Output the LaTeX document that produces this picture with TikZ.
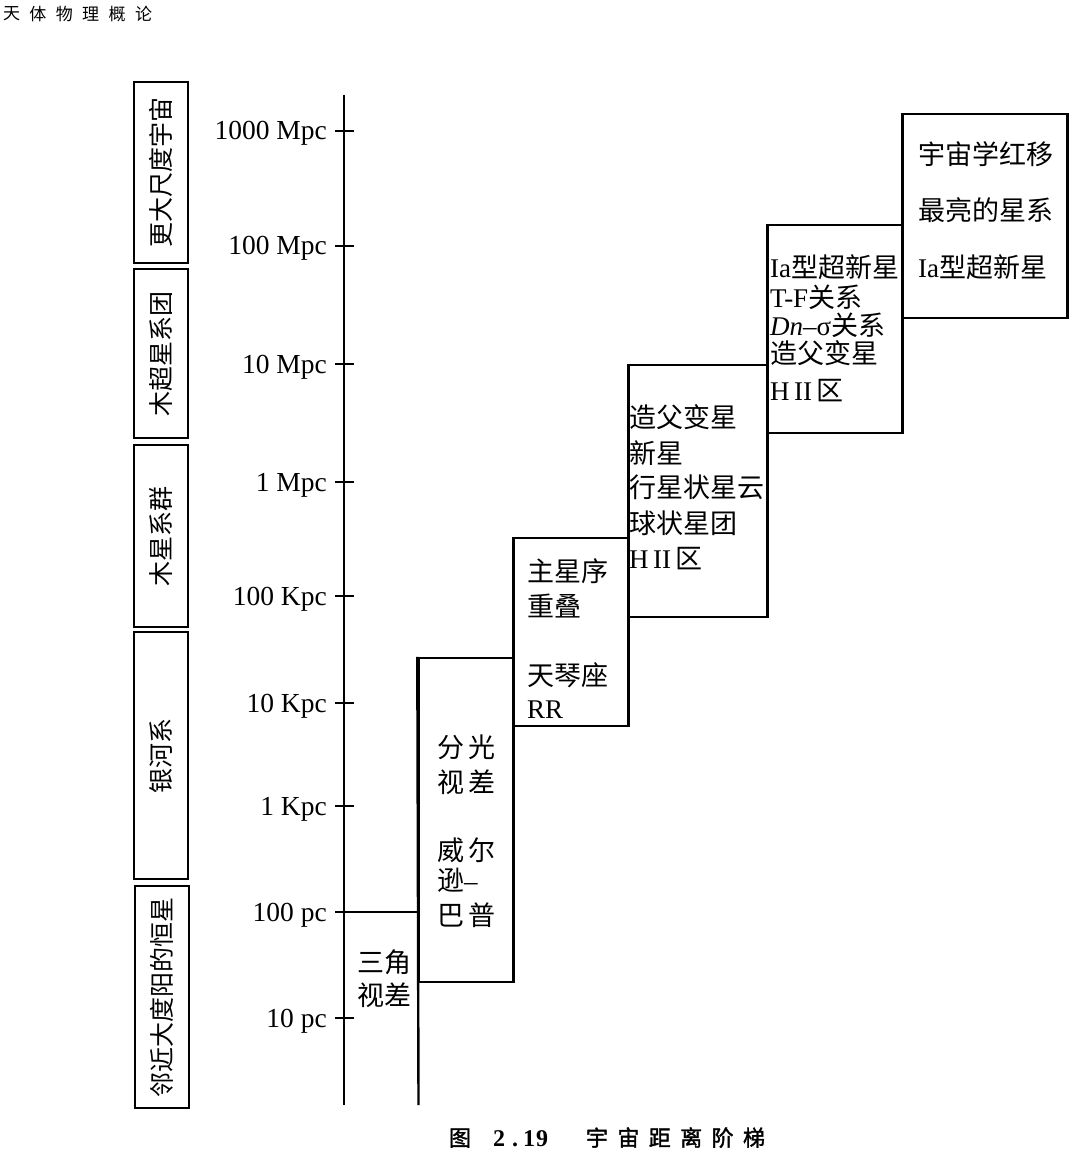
\documentclass[tikz,border=0pt]{standalone}
\usepackage{fontspec}
\setmainfont{Liberation Serif}
\newfontfamily\cjk{Noto Sans CJK SC}
\newfontfamily\cjkb[FakeBold=1.6]{Noto Sans CJK SC}
\begin{document}
\begin{tikzpicture}[x=1pt,y=-1pt,
  ln/.style={line width=2.4pt},
  catbox/.style={draw, line width=2.4pt, rotate=90, minimum height=54pt, inner sep=0pt,
                 font=\cjk\fontsize{25}{25}\selectfont},
  stepbox/.style={draw, line width=2.4pt, inner sep=0pt},
  lbl/.style={anchor=base west, inner sep=0pt, font=\fontsize{27}{30}\selectfont},
  ticklbl/.style={anchor=base east, inner sep=0pt, font=\fontsize{27.5}{30}\selectfont},
  headch/.style={inner sep=0pt, font=\cjk\fontsize{17}{17}\selectfont},
  capch/.style={anchor=base, inner sep=0pt, font=\cjkb\fontsize{22}{22}\selectfont},
  capnum/.style={anchor=base, inner sep=0pt, font=\bfseries\fontsize{24}{24}\selectfont}
]
\fill[white] (0,0) rectangle (1074,1155);
\useasboundingbox (0,0) rectangle (1074,1155);

% header
\foreach \c [count=\i from 0] in {天,体,物,理,概,论}
  \node[headch] (h\i) at (11.5+26.4*\i,14) {\c};

% category boxes
\node[catbox, minimum width=181pt] (c1) at (161,172.5) {更大尺度宇宙};
\node[catbox, minimum width=169pt] (c2) at (161,353.5) {木超星系团};
\node[catbox, minimum width=182pt] (c3) at (161,536)   {木星系群};
\node[catbox, minimum width=247pt] (c4) at (161,755.5) {银河系};
\node[catbox, minimum width=222pt] (c5) at (162,997)   {邻近大度阳的恒星};

% axis
\coordinate (axtop) at (344,95);
\coordinate (axbot) at (344,1105);
\draw[ln] (axtop) -- (axbot);
\foreach \y/\t [count=\i] in {131/1000 Mpc,246/100 Mpc,364/10 Mpc,482/1 Mpc,596/100 Kpc,703/10 Kpc,806/1 Kpc,912/100 pc,1018/10 pc}{
  \coordinate (tk\i) at (344,\y);
  \draw[ln] ([xshift=-9pt]tk\i) -- ([xshift=10pt]tk\i);
  \node[ticklbl] (tl\i) at (327,\y+9) {\t};
}

% step boxes
\node[stepbox, minimum width=95pt,  minimum height=324pt] (B) at (466,820) {};
\node[stepbox, minimum width=115pt, minimum height=188pt] (C) at (571,632) {};
\node[stepbox, minimum width=139pt, minimum height=252pt] (D) at (698,491) {};
\node[stepbox, minimum width=135pt, minimum height=208pt] (E) at (835,329) {};
\node[stepbox, minimum width=165pt, minimum height=204pt] (F) at (985,216) {};
\coordinate (bbot) at (418.5,1105);
\draw[ln] (B.north west) -- (bbot);
\draw[ln] (tk8) -- (tk8 -| B.west);

% box A text
\node[lbl] (a1) at (357,972) {\cjk 三角};
\node[lbl] (a2) at (357,1005) {\cjk 视差};

% box B text
\node[lbl] (b1) at (437,757) {\cjk 分\hspace{4pt}光};
\node[lbl] (b2) at (437,792) {\cjk 视\hspace{4pt}差};
\node[lbl] (b3) at (437,860) {\cjk 威\hspace{4pt}尔};
\node[lbl] (b4) at (437,890) {{\cjk 逊}–};
\node[lbl] (b5) at (437,925) {\cjk 巴\hspace{4pt}普};

% box C text
\node[lbl] (c1t) at (527,581) {\cjk 主星序};
\node[lbl] (c2t) at (527,616) {\cjk 重叠};
\node[lbl] (c3t) at (527,685) {\cjk 天琴座};
\node[lbl] (c4t) at (527,718) {RR};

% box D text
\node[lbl] (d1) at (629,427) {\cjk 造父变星};
\node[lbl] (d2) at (629,463) {\cjk 新星};
\node[lbl] (d3) at (629,497) {\cjk 行星状星云};
\node[lbl] (d4) at (629,533) {\cjk 球状星团};
\node[lbl] (d5) at (629,568) {H\,II\,{\cjk 区}};

% box E text
\node[lbl] (e1) at (770,277) {Ia{\cjk 型超新星}};
\node[lbl] (e2) at (770,307) {T-F{\cjk 关系}};
\node[lbl] (e3) at (770,335) {\textit{Dn}–σ{\cjk 关系}};
\node[lbl] (e4) at (770,363) {\cjk 造父变星};
\node[lbl] (e5) at (770,400) {H\,II\,{\cjk 区}};

% box F text
\node[lbl] (f1) at (918,165) {\cjk 宇宙学红移};
\node[lbl] (f2) at (918,221) {\cjk 最亮的星系};
\node[lbl] (f3) at (918,278) {Ia{\cjk 型超新星}};

% caption
\node[capch] (cap0) at (460,1146) {图};
\foreach \c/\x [count=\i] in {2/499,./515,1/529,9/542}
  \node[capnum] (capn\i) at (\x,1146) {\c};
\foreach \c [count=\i from 0] in {宇,宙,距,离,阶,梯}
  \node[capch] (capc\i) at (597+31.4*\i,1146) {\c};
\end{tikzpicture}
\end{document}
